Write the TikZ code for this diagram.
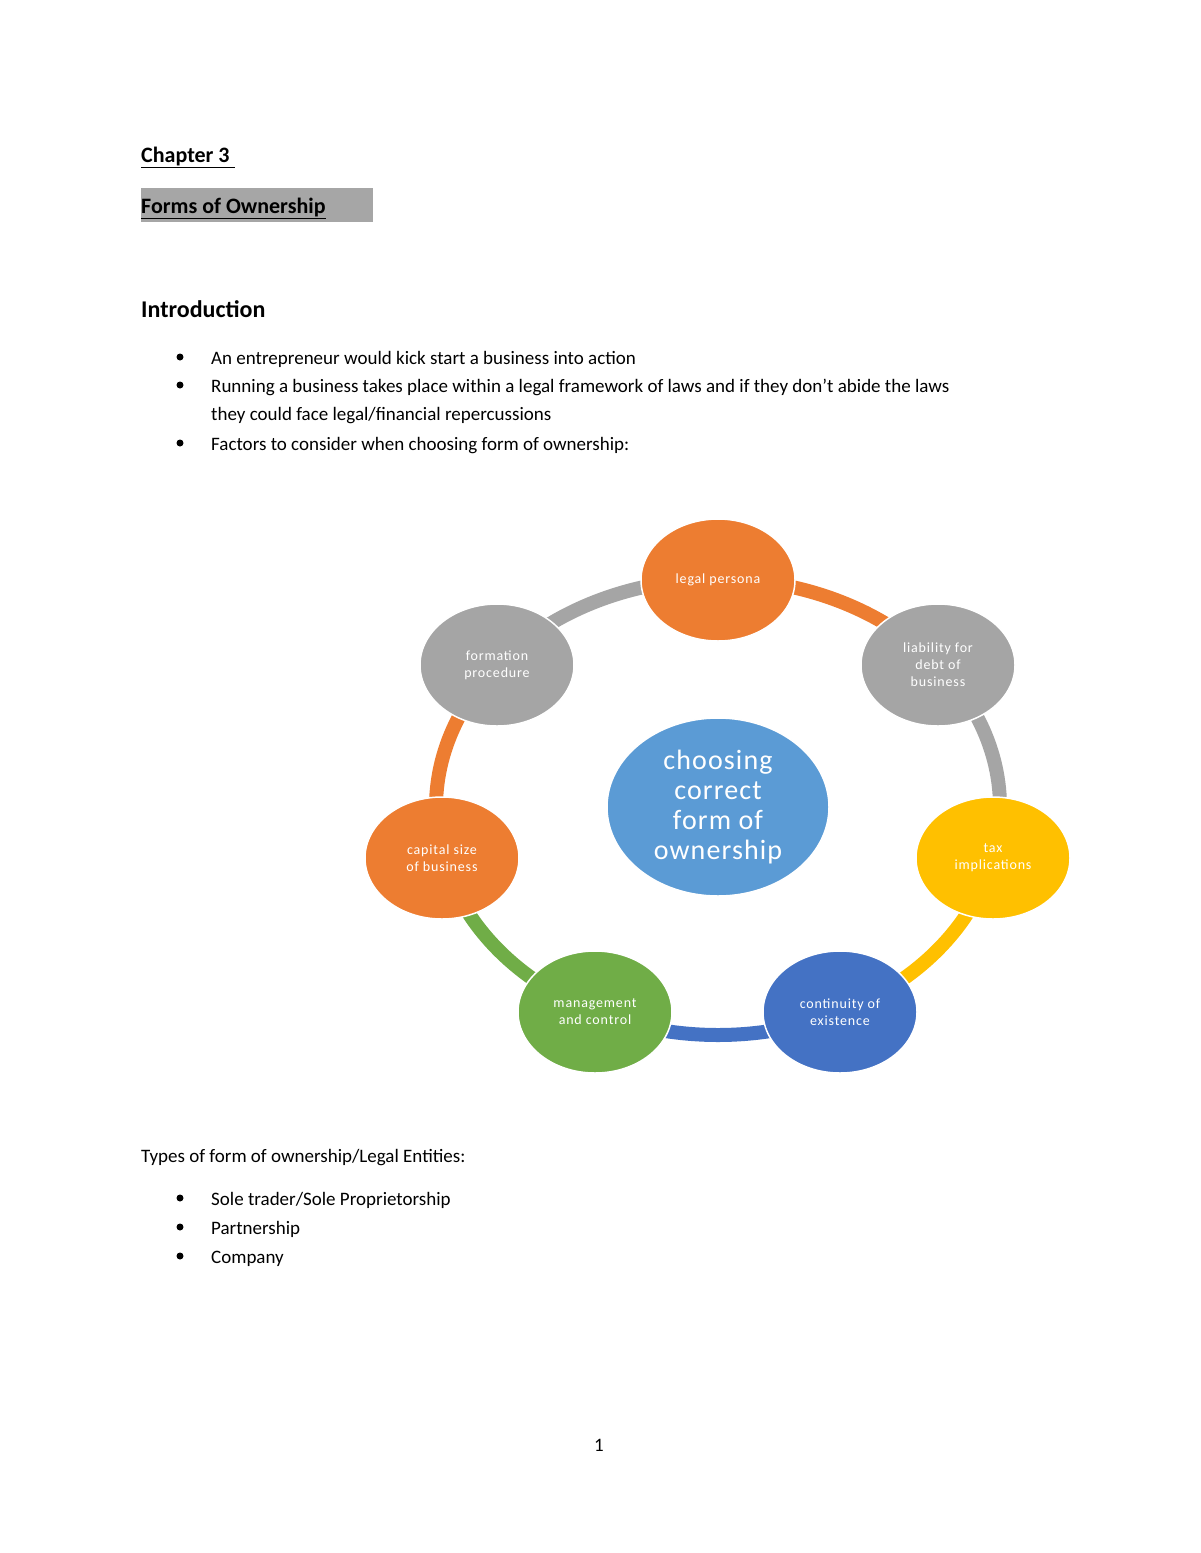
\documentclass[tikz,border=0pt]{standalone}
\usepackage{fontspec}
\setmainfont{Carlito}
\usetikzlibrary{shapes.geometric}
\definecolor{cor}{HTML}{ED7D31}
\definecolor{cgr}{HTML}{A5A5A5}
\definecolor{cye}{HTML}{FFC000}
\definecolor{cbl}{HTML}{4472C4}
\definecolor{cgn}{HTML}{70AD47}
\definecolor{cce}{HTML}{5B9BD5}
\begin{document}
\begin{tikzpicture}[x=1pt,y=-1pt,
  txt/.style={anchor=base west,inner sep=0pt,font=\fontsize{19}{23}\selectfont},
  blob/.style={ellipse,draw=white,line width=1.5pt,minimum width=154pt,minimum height=122pt,text=white,align=center,inner sep=0pt,font=\fontsize{14}{17}\selectfont\addfontfeature{LetterSpace=6}},
  ring/.style={line width=14pt}]
\useasboundingbox (0,0) rectangle (1200,1553);
\fill[white] (0,0) rectangle (1200,1553);
\node[txt,font=\fontsize{22}{26}\selectfont\bfseries] (ch) at (141,162) {\underline{Chapter 3\ }};
\fill[gray!70] (141,188) rectangle (373,222);
\node[txt,font=\fontsize{22}{26}\selectfont\bfseries] (fo) at (141,213) {\underline{Forms of Ownership}};
\node[txt,font=\fontsize{24}{28}\selectfont\bfseries] (in) at (141,317) {Introduction};
\foreach \y/\t in {364/{An entrepreneur would kick start a business into action},392/{Running a business takes place within a legal framework of laws and if they don’t abide the laws},420/{they could face legal/financial repercussions},450/{Factors to consider when choosing form of ownership:}}{
  \node[txt] at (211,\y) {\t};}
\foreach \y in {364,392,450,1205,1234,1263}{\fill (180,\y-7) circle (3.5pt);}
\node[txt] (ty) at (141,1162) {Types of form of ownership/Legal Entities:};
\node[txt] at (211,1205) {Sole trader/Sole Proprietorship};
\node[txt] at (211,1234) {Partnership};
\node[txt] at (211,1263) {Company};
\node[txt] (pg) at (594,1451) {1};
% ring arcs
\def\cx{718}\def\cy{807}
\foreach \a/\c in {-64.3/cor,-12.9/cgr,38.6/cye,90/cbl,141.4/cgn,192.9/cor,244.3/cgr}{
  \draw[ring,\c] ({\cx+282*cos(\a-11)},{\cy+228*sin(\a-11)}) arc[start angle=\a-11,end angle=\a+11,x radius=282,y radius=228];}
\node[blob,fill=cor] (lp) at (718,580) {legal persona};
\node[blob,fill=cgr] (li) at (938,665) {liability for\\debt of\\business};
\node[blob,fill=cye] (tx) at (993,858) {tax\\implications};
\node[blob,fill=cbl] (co) at (840,1012) {continuity of\\existence};
\node[blob,fill=cgn] (mc) at (595,1012) {management\\and control};
\node[blob,fill=cor] (cs) at (442,858) {capital size\\of business};
\node[blob,fill=cgr] (fp) at (497,665) {formation\\procedure};
\node[blob,fill=cce,minimum width=222pt,minimum height=178pt,font=\fontsize{28}{30}\selectfont\addfontfeature{LetterSpace=4}] (ce) at (718,807) {choosing\\correct\\form of\\ownership};
\end{tikzpicture}
\end{document}
